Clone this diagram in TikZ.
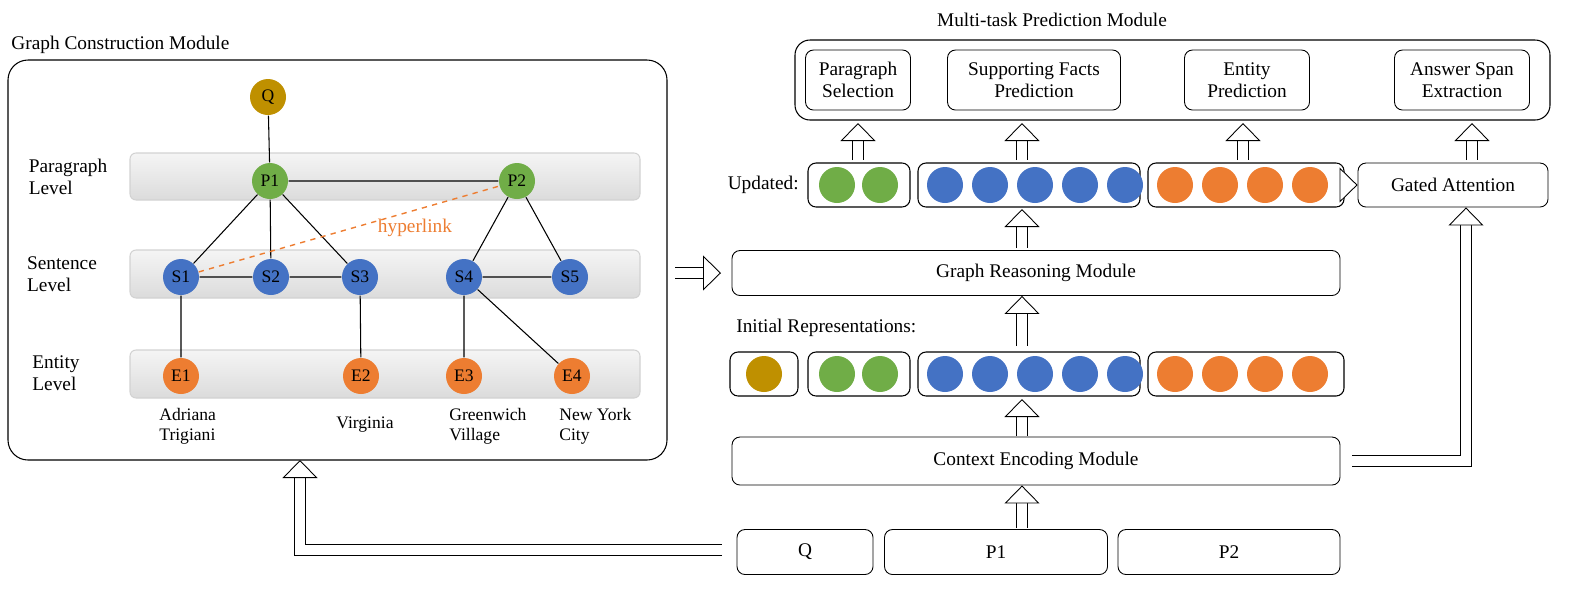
\documentclass[tikz,border=0pt]{standalone}
\usepackage{fontspec}
\setmainfont{Liberation Serif}
\usetikzlibrary{positioning, arrows.meta, shapes.arrows}
\definecolor{cq}{HTML}{BF9000}
\definecolor{cp}{HTML}{70AD47}
\definecolor{cs}{HTML}{4472C4}
\definecolor{ce}{HTML}{ED7D31}
\tikzset{
  dot/.style={circle, minimum size=7.2mm, inner sep=0pt, font=\fontsize{10}{11}\selectfont},
  box/.style={draw, rounded corners=1.6mm, line width=0.5pt, align=center, font=\fontsize{11}{12.5}\selectfont},
  band/.style={draw=gray!35, rounded corners=1.2mm, top color=gray!8, bottom color=gray!28},
  lab/.style={align=left, font=\fontsize{11}{12.5}\selectfont},
  ent/.style={align=left, anchor=north west, font=\fontsize{10}{11.5}\selectfont},
  hollow/.style={double, double distance=2mm, line width=0.5pt, -{Triangle[open, fill=white, length=3.6mm, width=7mm]}},
}
\begin{document}
\begin{tikzpicture}[x=0.2mm, y=-0.2mm, line width=0.6pt]
    \useasboundingbox (0,0) rectangle (1578,589);
    % graph construction module
    \node[lab, anchor=west] (gt) at (5,45) {Graph Construction Module};
    \draw[rounded corners=4mm] (8,60) rectangle (667,460);
    \coordinate (gb) at (300,460);
    \draw[band] (130,153) rectangle (640,200);
    \draw[band] (130,250) rectangle (640,298);
    \draw[band] (130,350) rectangle (640,398);
    \node[lab] (lp) at (68,177) {Paragraph\\Level};
    \node[lab] (ls) at (62,274) {Sentence\\Level};
    \node[lab] (le) at (56,373) {Entity\\Level};
    \node[dot, fill=cq] (Q) at (268,97) {Q};
    \node[dot, fill=cp] (P1) at (270,181) {P1};
    \node[dot, fill=cp] (P2) at (517,181) {P2};
    \foreach \n/\x in {1/181, 2/271, 3/360, 4/464, 5/570}
        \node[dot, fill=cs] (S\n) at (\x,277) {S\n};
    \foreach \n/\x in {1/181, 2/361, 3/464, 4/572}
        \node[dot, fill=ce] (E\n) at (\x,376) {E\n};
    \draw (Q) -- (P1) (P1) -- (P2) (P1) -- (S1) (P1) -- (S2) (P1) -- (S3)
          (P2) -- (S4) (P2) -- (S5) (S1) -- (S2) (S2) -- (S3) (S4) -- (S5)
          (S1) -- (E1) (S3) -- (E2) (S4) -- (E3) (S4) -- (E4);
    \draw[ce, dashed, line width=0.8pt] (S1) -- (P2);
    \node[ce, font=\fontsize{11}{12.5}\selectfont] (hl) at (415,228) {hyperlink};
    \node[ent] (n1) at (153,402) {Adriana\\Trigiani};
    \node[ent] (n2) at (330,410) {Virginia};
    \node[ent] (n3) at (443,402) {Greenwich\\Village};
    \node[ent] (n4) at (553,402) {New York\\City};
    % multi-task prediction module
    \node[lab] (mt) at (1052,20) {Multi-task Prediction Module};
    \draw[rounded corners=3mm] (795,40) rectangle (1550,120);
    \node[box, minimum width=21mm, minimum height=12mm] (ps) at (858,80) {Paragraph\\Selection};
    \node[box, minimum width=34.6mm, minimum height=12mm] (sf) at (1034,80) {Supporting Facts\\Prediction};
    \node[box, minimum width=25mm, minimum height=12mm] (ep) at (1247,80) {Entity\\Prediction};
    \node[box, minimum width=27mm, minimum height=12mm] (as) at (1462,80) {Answer Span\\Extraction};
    % rows of representations
    \node[lab, anchor=east] (up) at (805,185) {Updated:};
    \node[lab, anchor=west] (ir) at (730,328) {Initial Representations:};
    \foreach \r/\y in {u/185, i/374} {
        \draw[rounded corners=1.6mm] (808,\y-22) rectangle (910,\y+22);
        \draw[rounded corners=1.6mm] (918,\y-22) rectangle (1140,\y+22);
        \draw[rounded corners=1.6mm] (1148,\y-22) rectangle (1344,\y+22);
        \foreach \k/\x in {1/837, 2/880}
            \node[dot, fill=cp] (\r p\k) at (\x,\y) {};
        \foreach \k/\x in {1/945, 2/990, 3/1035, 4/1080, 5/1125}
            \node[dot, fill=cs] (\r s\k) at (\x,\y) {};
        \foreach \k/\x in {1/1175, 2/1220, 3/1265, 4/1310}
            \node[dot, fill=ce] (\r e\k) at (\x,\y) {};
    }
    \draw[rounded corners=1.6mm] (730,352) rectangle (798,396);
    \node[dot, fill=cq] (iq) at (764,374) {};
    \node[box, minimum width=38mm, minimum height=8.8mm] (ga) at (1453,185) {Gated Attention};
    \node[box, minimum width=121.6mm, minimum height=9mm] (gr) at (1036,273) {Graph Reasoning Module};
    \node[box, minimum width=121.6mm, minimum height=9.6mm] (ce) at (1036,461) {Context Encoding Module};
    \node[box, minimum width=27.2mm, minimum height=9mm] (qi) at (805,552) {Q};
    \node[box, minimum width=44.6mm, minimum height=9mm] (p1i) at (996,552) {P1};
    \node[box, minimum width=44.4mm, minimum height=9mm] (p2i) at (1229,552) {P2};
    % hollow arrows
    \foreach \x in {858, 1022, 1243, 1472}
        \draw[hollow] (\x,160) -- (\x,123);
    \draw[hollow] (1350,185) -- (ga.west);
    \draw[hollow] (1022,248) -- (1022,209);
    \draw[hollow] (1022,346) -- (gr.south -| 1022,0);
    \draw[hollow] (1022,436) -- (1022,399);
    \draw[hollow] (1022,528) -- (ce.south -| 1022,0);
    \draw[hollow] (675,273) -- (721,273);
    \draw[hollow] (722,550) -| (gb);
    \draw[hollow] (1352,461) -| (ga.south -| 1466,0);
\end{tikzpicture}
\end{document}
